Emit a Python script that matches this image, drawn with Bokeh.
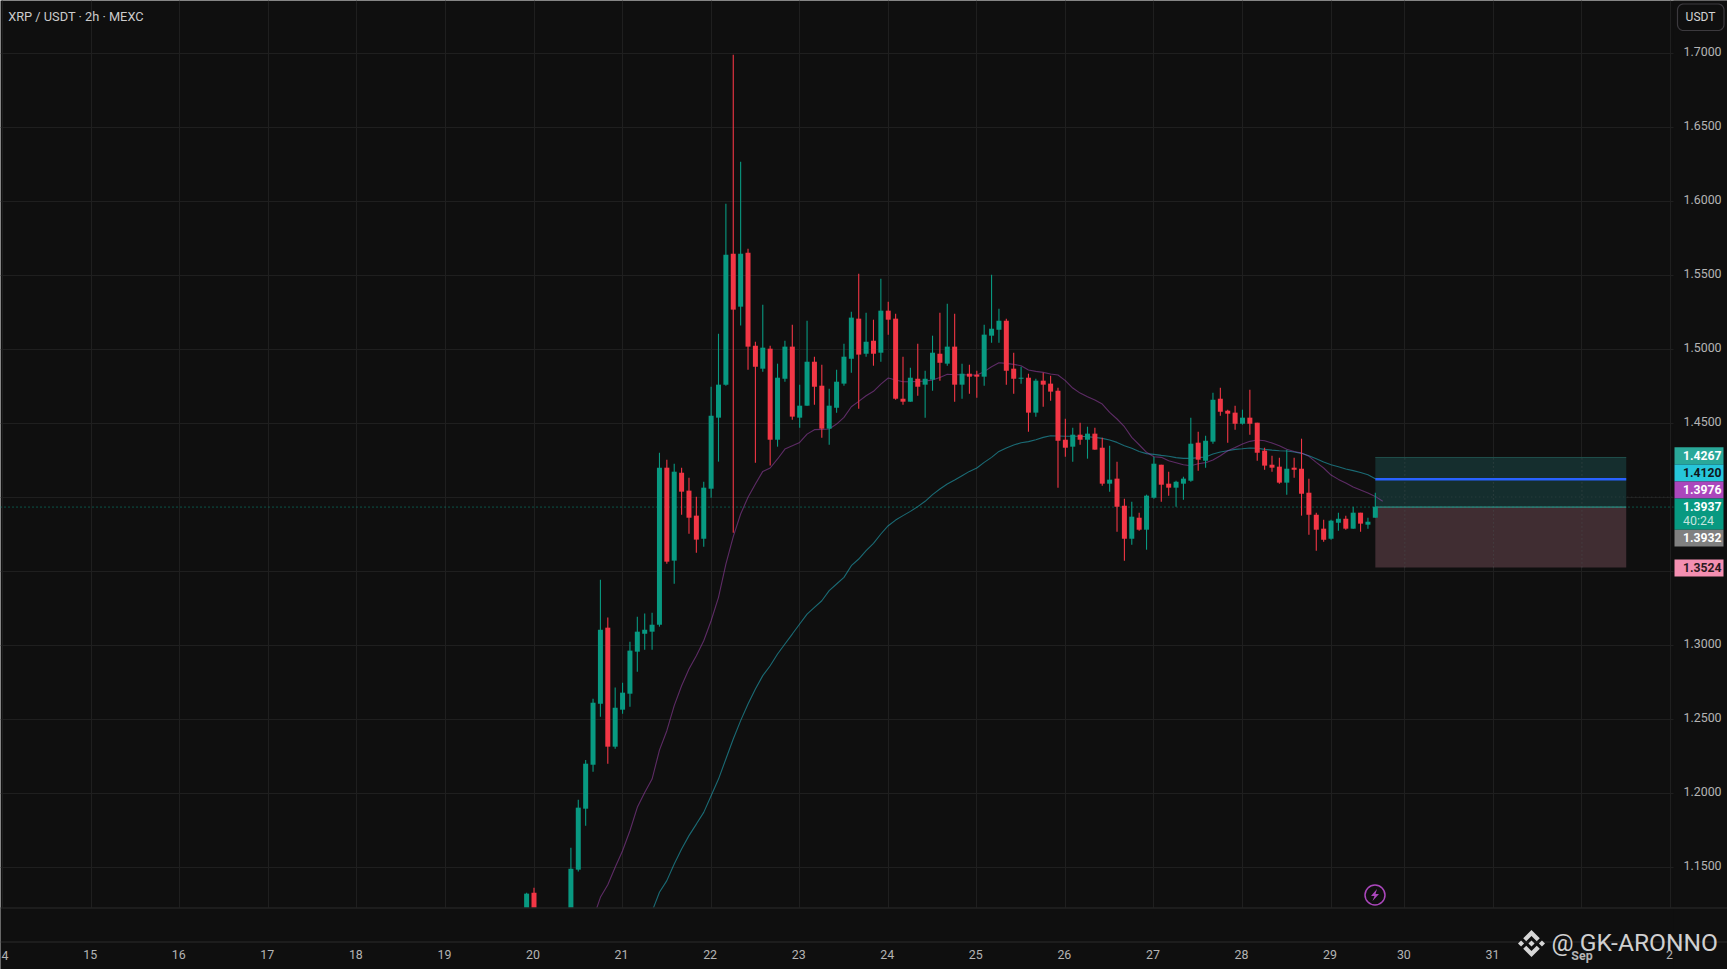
import math
from bokeh.plotting import figure
from bokeh.embed import file_html
from bokeh.resources import INLINE
from bokeh.core.properties import value
from bokeh.models import LinearAxis, Grid, FixedTicker, NumeralTickFormatter, Range1d

# ---------- data ----------
first_bar = -1
opens = [1.1150,1.1326,1.1150,1.1090,1.1120,1.1100,1.1150,1.1482,1.1894,1.2191,1.2603,1.3117,1.2313,1.2563,1.2671,1.2955,1.3076,1.3090,1.3137,1.4198,1.3570,1.4164,1.4043,1.3874,1.3718,1.4056,1.4536,1.4759,1.5644,1.5286,1.5651,1.5022,1.4867,1.5002,1.4387,1.4799,1.5016,1.4536,1.4617,1.4914,1.4752,1.4462,1.4603,1.4766,1.4934,1.5205,1.4968,1.5056,1.4975,1.5259,1.5205,1.4664,1.4644,1.4799,1.4759,1.4793,1.4968,1.4901,1.5016,1.4759,1.4833,1.4826,1.4813,1.5090,1.5130,1.5191,1.4867,1.4799,1.4806,1.4570,1.4786,1.4766,1.4718,1.4387,1.4340,1.4421,1.4387,1.4428,1.4333,1.4090,1.4124,1.3941,1.3718,1.3860,1.3779,1.3995,1.4218,1.4090,1.4063,1.4090,1.4110,1.4367,1.4245,1.4374,1.4664,1.4583,1.4570,1.4495,1.4536,1.4502,1.4313,1.4218,1.4205,1.4097,1.4198,1.4191,1.4029,1.3880,1.3786,1.3718,1.3826,1.3853,1.3786,1.3894,1.3813,1.3860]
highs = [1.1326,1.1360,1.1190,1.1150,1.1170,1.1180,1.1630,1.1955,1.2223,1.2637,1.3441,1.3185,1.2712,1.2745,1.3022,1.3191,1.3212,1.3218,1.4299,1.4252,1.4225,1.4198,1.4130,1.4002,1.4103,1.4745,1.5103,1.5982,1.6989,1.6266,1.5678,1.5049,1.5299,1.5022,1.4901,1.5056,1.5164,1.4759,1.5191,1.4948,1.4894,1.4732,1.4860,1.5036,1.5252,1.5509,1.5245,1.5198,1.5475,1.5320,1.5239,1.4948,1.4874,1.5036,1.4853,1.5090,1.5245,1.5306,1.5239,1.4901,1.4894,1.4853,1.5164,1.5502,1.5272,1.5205,1.4975,1.4880,1.4833,1.4799,1.4840,1.4820,1.4739,1.4529,1.4468,1.4502,1.4475,1.4468,1.4401,1.4347,1.4239,1.3989,1.3968,1.3894,1.4016,1.4272,1.4218,1.4171,1.4110,1.4137,1.4536,1.4441,1.4414,1.4705,1.4739,1.4590,1.4617,1.4590,1.4725,1.4502,1.4333,1.4279,1.4266,1.4320,1.4266,1.4394,1.4124,1.3894,1.3847,1.3847,1.3894,1.3874,1.3934,1.3894,1.3860,1.4029]
lows = [1.1120,1.1100,1.1040,1.1050,1.1080,1.1070,1.1120,1.1470,1.1779,1.2144,1.2516,1.2198,1.2299,1.2536,1.2583,1.2820,1.2968,1.2968,1.3124,1.3549,1.3414,1.3880,1.3752,1.3624,1.3664,1.3995,1.4239,1.4752,1.3759,1.5158,1.4860,1.4232,1.4847,1.4212,1.4340,1.4779,1.4522,1.4468,1.4617,1.4624,1.4401,1.4353,1.4570,1.4752,1.4840,1.4597,1.4948,1.4887,1.4914,1.5097,1.4657,1.4624,1.4644,1.4684,1.4536,1.4718,1.4786,1.4887,1.4644,1.4664,1.4698,1.4671,1.4752,1.5043,1.5043,1.4759,1.4698,1.4766,1.4441,1.4543,1.4610,1.4651,1.4063,1.4272,1.4239,1.4353,1.4259,1.4320,1.4076,1.4036,1.3766,1.3570,1.3678,1.3772,1.3644,1.3989,1.3968,1.4009,1.3934,1.3982,1.4103,1.4178,1.4198,1.4360,1.4549,1.4367,1.4455,1.4489,1.4421,1.4245,1.4184,1.4171,1.4090,1.4016,1.4130,1.3874,1.3745,1.3637,1.3698,1.3711,1.3772,1.3779,1.3786,1.3766,1.3786,1.3860]
closes = [1.1320,1.1150,1.1090,1.1120,1.1100,1.1150,1.1488,1.1901,1.2198,1.2610,1.3103,1.2313,1.2576,1.2678,1.2962,1.3090,1.3103,1.3137,1.4198,1.3563,1.4171,1.4036,1.3860,1.3712,1.4063,1.4549,1.4759,1.5637,1.5266,1.5644,1.5016,1.4880,1.5009,1.4387,1.4806,1.5016,1.4543,1.4617,1.4914,1.4745,1.4462,1.4617,1.4779,1.4948,1.5212,1.4962,1.5049,1.4968,1.5259,1.5198,1.4664,1.4644,1.4806,1.4745,1.4799,1.4975,1.4907,1.5016,1.4759,1.4833,1.4813,1.4813,1.5097,1.5137,1.5191,1.4853,1.4799,1.4806,1.4570,1.4786,1.4759,1.4712,1.4380,1.4333,1.4421,1.4387,1.4428,1.4320,1.4090,1.4117,1.3934,1.3718,1.3867,1.3779,1.4009,1.4225,1.4083,1.4063,1.4103,1.4124,1.4360,1.4252,1.4380,1.4657,1.4576,1.4563,1.4495,1.4536,1.4495,1.4299,1.4212,1.4198,1.4097,1.4191,1.4184,1.4022,1.3880,1.3779,1.3711,1.3840,1.3853,1.3786,1.3894,1.3820,1.3833,1.3934]

ema_fast_first = 8
ema_fast = [1.1150,1.1295,1.1380,1.1498,1.1610,1.1745,1.1903,1.2004,1.2094,1.2290,1.2421,1.2590,1.2725,1.2838,1.2928,1.3029,1.3164,1.3322,1.3547,1.3732,1.3885,1.3998,1.4088,1.4173,1.4196,1.4257,1.4324,1.4347,1.4369,1.4425,1.4455,1.4457,1.4459,1.4493,1.4538,1.4610,1.4646,1.4684,1.4714,1.4763,1.4804,1.4790,1.4779,1.4779,1.4781,1.4784,1.4790,1.4808,1.4829,1.4826,1.4826,1.4824,1.4824,1.4847,1.4880,1.4907,1.4903,1.4896,1.4887,1.4858,1.4849,1.4842,1.4831,1.4824,1.4786,1.4736,1.4702,1.4678,1.4655,1.4628,1.4572,1.4527,1.4475,1.4403,1.4353,1.4302,1.4272,1.4268,1.4245,1.4232,1.4218,1.4211,1.4225,1.4232,1.4250,1.4279,1.4313,1.4335,1.4358,1.4376,1.4385,1.4380,1.4365,1.4347,1.4322,1.4308,1.4297,1.4275,1.4234,1.4196,1.4148,1.4119,1.4094,1.4067,1.4047,1.4027,1.4004,1.3971]
ema_slow_first = 16
ema_slow = [1.1200,1.1329,1.1408,1.1520,1.1622,1.1712,1.1790,1.1869,1.1982,1.2094,1.2230,1.2365,1.2489,1.2601,1.2703,1.2793,1.2860,1.2939,1.3007,1.3074,1.3142,1.3209,1.3254,1.3299,1.3367,1.3412,1.3457,1.3536,1.3581,1.3637,1.3687,1.3750,1.3806,1.3844,1.3874,1.3903,1.3935,1.3971,1.4016,1.4054,1.4088,1.4115,1.4144,1.4173,1.4196,1.4234,1.4268,1.4308,1.4331,1.4351,1.4367,1.4374,1.4387,1.4403,1.4414,1.4412,1.4410,1.4410,1.4410,1.4407,1.4403,1.4396,1.4385,1.4369,1.4347,1.4329,1.4308,1.4293,1.4288,1.4281,1.4275,1.4266,1.4261,1.4261,1.4266,1.4270,1.4290,1.4304,1.4313,1.4322,1.4326,1.4331,1.4329,1.4322,1.4317,1.4313,1.4311,1.4304,1.4295,1.4279,1.4259,1.4236,1.4218,1.4205,1.4189,1.4178,1.4166,1.4151,1.4124]

price_tick_values = [1.70,1.65,1.60,1.55,1.50,1.45,1.40,1.35,1.30,1.25,1.20,1.15]
hidden_price_ticks = [1.40,1.35]
day_ticks = [-72,-60,-48,-36,-24,-12,0,12,24,36,48,60,72,84,96,108,118,130,142,154]
day_labels = ["","15","16","17","18","19","20","21","22","23","24","25","26","27","28","29","30","31","","2"]
clipped_day_label = "4"
month_tick = 142
month_label = "Sep"

last_price_line = 1.3932
target_price = 1.4267
entry_price = 1.3932
stop_price = 1.3524
mid_price = 1.4120
box_start_bar = 114
box_end_bar = 148

tag_texts = ["1.4267","1.4120","1.3976","1.3937","1.3932","1.3524"]
tag_colors = ["#2aa899","#26c6da","#ab47bc","#089981","#808080","#f48fb1"]
tag_text_colors = ["#ffffff","#10161a","#ffffff","#ffffff","#ffffff","#2a1a20"]
countdown = "40:24"
title_text = "XRP / USDT \u00b7 2h \u00b7 MEXC"
currency_text = "USDT"
watermark_text = "@ GK-ARONNO"

# ---------- layout helpers: page pixels <-> data ----------
W, H = 1727, 969
BAR_PX, X0 = 7.38, 533.5
PRICE_PX, Y0 = 1480.0, 52.5
def X(px): return (px - X0) / BAR_PX
def Y(py): return 1.7 - (py - Y0) / PRICE_PX
PANE_R, PANE_B, AXIS_B = 1673, 907, 941

BG = "#0f0f0f"
GRID = "#1f1f1f"
SEP = "#2c2c2c"
AXIS_TXT = "#b4b4b4"
GREEN = "#089981"
RED = "#f23645"
FONT = value("Roboto")

p = figure(width=W, height=H, output_backend="svg", toolbar_location=None,
           x_axis_type=None, y_axis_type=None,
           x_range=Range1d(X(0), X(W)), y_range=Range1d(Y(H), Y(0)),
           min_border=0, min_border_left=0, min_border_right=0, min_border_top=0, min_border_bottom=0,
           background_fill_color=BG, border_fill_color=BG, outline_line_color=None)
# the labels of the scales sit a little off their grid lines
p.extra_y_ranges = {"price_labels": Range1d(Y(H + 2), Y(2))}
p.extra_x_ranges = {"day_labels": Range1d(X(1), X(W + 1))}

# grids
p.add_layout(Grid(dimension=0, ticker=FixedTicker(ticks=day_ticks), grid_line_color=GRID, grid_line_width=1))
p.add_layout(Grid(dimension=1, ticker=FixedTicker(ticks=price_tick_values), grid_line_color=GRID, grid_line_width=1))

# position box
p.quad(left=[box_start_bar], right=[box_end_bar], bottom=[entry_price], top=[target_price],
       fill_color="#152e2e", line_color=None)
p.quad(left=[box_start_bar], right=[box_end_bar], bottom=[stop_price], top=[entry_price],
       fill_color="#402d32", line_color=None)
p.segment(x0=[box_start_bar], x1=[box_end_bar], y0=[target_price], y1=[target_price], line_color="#20504c", line_width=1)
p.segment(x0=[t for t in day_ticks if box_start_bar < t < box_end_bar],
          x1=[t for t in day_ticks if box_start_bar < t < box_end_bar],
          y0=[stop_price]*3, y1=[target_price]*3, line_color="#4a5656", line_width=1, line_dash="1 3", line_alpha=0.7)
p.segment(x0=[box_start_bar], x1=[X(PANE_R)], y0=[1.40], y1=[1.40], line_color="#4a5656", line_width=1, line_dash="1 3", line_alpha=0.5)
p.segment(x0=[box_start_bar], x1=[box_end_bar], y0=[entry_price], y1=[entry_price], line_color="#3a9a92", line_width=1)
p.segment(x0=[box_start_bar], x1=[box_end_bar], y0=[mid_price], y1=[mid_price], line_color="#2962ff", line_width=2.5)

# last price line
p.segment(x0=[X(0)], x1=[X(PANE_R)], y0=[last_price_line], y1=[last_price_line], line_color=GREEN, line_width=1, line_dash="1 3")

# moving averages
p.line(list(range(ema_slow_first, ema_slow_first + len(ema_slow))), ema_slow, line_color="#26c6da", line_alpha=0.5, line_width=1.1)
p.line(list(range(ema_fast_first, ema_fast_first + len(ema_fast))), ema_fast, line_color="#ab47bc", line_alpha=0.5, line_width=1.1)

# candles
bars = list(range(first_bar, first_bar + len(opens)))
colors = [GREEN if c >= o else RED for o, c in zip(opens, closes)]
p.segment(x0=bars, x1=bars, y0=lows, y1=highs, line_color=colors, line_width=1.1)
p.vbar(x=bars, width=5.0 / BAR_PX, top=[max(o, c) for o, c in zip(opens, closes)],
       bottom=[min(o, c) for o, c in zip(opens, closes)], fill_color=colors, line_color=None)

# covers: time pane and price scale hide what leaves the chart pane
p.quad(left=[X(0)], right=[X(W)], bottom=[Y(H)], top=[Y(PANE_B)], fill_color=BG, line_color=None)
p.quad(left=[X(PANE_R)], right=[X(W)], bottom=[Y(H)], top=[Y(0)], fill_color=BG, line_color=None)
for yy in (PANE_B + 0.5, AXIS_B + 0.5):
    p.segment(x0=[X(0)], x1=[X(W)], y0=[Y(yy)], y1=[Y(yy)], line_color=SEP, line_width=1)

# axes, drawn on the fixed lines of the pane
yaxis = LinearAxis(ticker=FixedTicker(ticks=[t for t in price_tick_values if t not in hidden_price_ticks]),
                   y_range_name="price_labels",
                   formatter=NumeralTickFormatter(format="0.0000"),
                   fixed_location=X(PANE_R), axis_line_color=None, major_tick_line_color=None, minor_tick_line_color=None,
                   major_tick_out=0, major_label_text_color=AXIS_TXT, major_label_text_font="Roboto",
                   major_label_text_font_size="12.4px", major_label_standoff=10)
p.add_layout(yaxis, "right")
xaxis = LinearAxis(ticker=FixedTicker(ticks=[t for t in day_ticks if t != -72]),
                   x_range_name="day_labels",
                   major_label_overrides=dict(zip(day_ticks, day_labels)),
                   fixed_location=Y(AXIS_B), axis_line_color=None, major_tick_line_color=None, minor_tick_line_color=None,
                   major_tick_out=0, major_label_text_color=AXIS_TXT, major_label_text_font="Roboto",
                   major_label_text_font_size="12.4px", major_label_standoff=8)
p.add_layout(xaxis, "below")
p.text(x=[X(4.4)], y=[Y(955)], text=[clipped_day_label], text_color=AXIS_TXT, text_font=FONT,
       text_font_size="12.4px", text_align="center", text_baseline="middle")
p.text(x=[month_tick], y=[Y(955)], text=[month_label], text_color=AXIS_TXT, text_font=FONT,
       text_font_size="12.4px", text_font_style="bold", text_align="center", text_baseline="middle")

# price tags
tag_tops = [446.7, 464, 481, 498, 529.3, 559]
tag_bots = [464, 481, 498, 529.3, 546, 576]
tag_text_y = [454.7, 471.7, 488.7, 505.7, 536.7, 566.7]
TAG_L, TAG_R, TAG_TXT = 1674, 1723, 1682.5
p.quad(left=[X(TAG_L)] * 6, right=[X(TAG_R)] * 6, top=[Y(v) for v in tag_tops], bottom=[Y(v) for v in tag_bots],
       fill_color=tag_colors, line_color=None)
p.text(x=[X(TAG_TXT)] * 6, y=[Y(v) for v in tag_text_y], text=tag_texts, text_color=tag_text_colors,
       text_font=FONT, text_font_size="12.2px", text_font_style="bold", text_baseline="middle")
p.text(x=[X(TAG_TXT)], y=[Y(520.2)], text=[countdown], text_color="#c4e4de", text_font=FONT, text_font_size="12.4px",
       text_baseline="middle")

# title
p.text(x=[X(7.7)], y=[Y(15.6)], text=[title_text], text_color="#cccccc", text_font=FONT, text_font_size="12.8px",
       text_baseline="middle")

# currency button, a rounded outline
BL, BR, BT, BB, BRAD = 1677, 1723.5, 3.5, 30, 6
corners = [(BR - BRAD, BT + BRAD, -90), (BR - BRAD, BB - BRAD, 0), (BL + BRAD, BB - BRAD, 90), (BL + BRAD, BT + BRAD, 180)]
outline = [(cx + BRAD * math.cos(math.radians(a0 + k * 15)), cy + BRAD * math.sin(math.radians(a0 + k * 15)))
           for cx, cy, a0 in corners for k in range(7)]
p.patch([X(a) for a, b in outline], [Y(b) for a, b in outline], fill_color=BG, line_color="#3c3a3e", line_width=1.2)
p.text(x=[X(1700)], y=[Y(16.5)], text=[currency_text], text_color="#d4d4d4", text_font=FONT, text_font_size="12px",
       text_align="center", text_baseline="middle")

# alert symbol
CX, CY = 1374.5, 894.5
p.scatter(x=[X(CX)], y=[Y(CY)], size=20, marker="circle", fill_alpha=0, line_color="#ab47bc", line_width=1.5)
bolt = [(2, -6), (-4, 1), (-0.5, 1), (-2.5, 6), (4, -1), (0.5, -1)]
p.patch([X(CX + a) for a, b in bolt], [Y(CY + b) for a, b in bolt], fill_color="#ab47bc", line_color=None)

# watermark logo
LOGO = [[(38.73,53.2),(63.3,28.63),(87.89,53.22),(102.19,38.92),(63.3,0),(24.42,38.9)],
        [(14.3,49.01),(28.6,63.31),(14.3,77.61),(0,63.31)],
        [(38.73,73.41),(63.3,97.98),(87.89,73.4),(102.2,87.69),(63.3,126.61),(24.41,87.7)],
        [(112.3,49.01),(126.61,63.31),(112.3,77.61),(98,63.31)],
        [(63.3,48.81),(77.81,63.31),(63.3,77.81),(48.81,63.31)]]
LX, LY, LS = 1517.5, 929.5, 27.0 / 126.61
p.patches([[X(LX + a * LS) for a, b in s] for s in LOGO], [[Y(LY + b * LS) for a, b in s] for s in LOGO],
          fill_color="#d6d6d6", line_color=None)
p.text(x=[X(1551)], y=[Y(942)], text=[watermark_text], text_color="#d0d0d0", text_font=FONT, text_font_size="24.6px",
       text_baseline="middle")

open("out.html", "w").write(file_html(p, INLINE))
